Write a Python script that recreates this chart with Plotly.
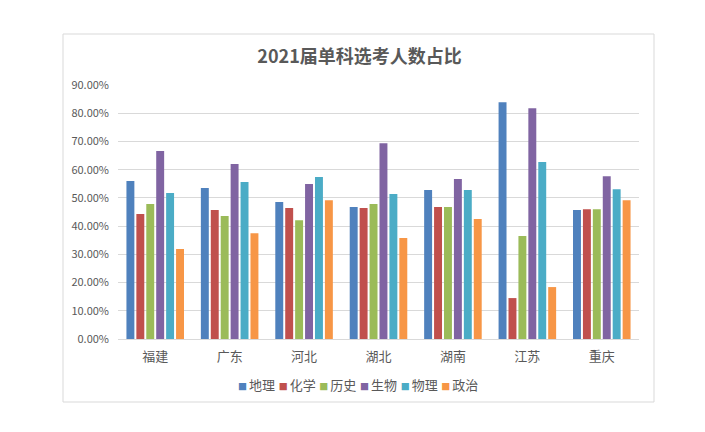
import plotly.graph_objects as go

categories = ["福建", "广东", "河北", "湖北", "湖南", "江苏", "重庆"]
dili =     [0.560, 0.535, 0.485, 0.468, 0.528, 0.839, 0.457]
huaxue =   [0.443, 0.457, 0.464, 0.464, 0.468, 0.145, 0.460]
lishi =    [0.478, 0.436, 0.421, 0.478, 0.468, 0.365, 0.460]
shengwu =  [0.666, 0.620, 0.549, 0.694, 0.567, 0.818, 0.577]
wuli =     [0.517, 0.556, 0.574, 0.514, 0.528, 0.627, 0.531]
zhengzhi = [0.319, 0.375, 0.492, 0.358, 0.425, 0.184, 0.492]

series = [
    ("地理", dili, "#4F81BD"),
    ("化学", huaxue, "#C0504D"),
    ("历史", lishi, "#9BBB59"),
    ("生物", shengwu, "#8064A2"),
    ("物理", wuli, "#4BACC6"),
    ("政治", zhengzhi, "#F79646"),
]

font_family = "Noto Sans CJK SC, Noto Sans, sans-serif"
fig = go.Figure()
for name, vals, color in series:
    fig.add_trace(go.Bar(name=name, x=categories, y=vals, marker_color=color,
                         marker_line_width=0, showlegend=False))

# plot area: x 118-639, y 85-339
W, H = 705, 432
L, R, T, B = 118, 639, 85, 339
pw, ph = R - L, B - T

def px(x):
    return (x - L) / pw

def py(y):
    return (B - y) / ph

legend_text = '<span style="font-size:16px">&nbsp;</span>'.join(
    f'<span style="font-size:9px;color:{c}">■</span>'
    f'<span style="font-size:9px">&nbsp;</span>{n}' for n, _, c in series
)

fig.update_layout(
    width=W, height=H,
    margin=dict(l=L, r=W - R, t=T, b=H - B),
    paper_bgcolor="white", plot_bgcolor="white",
    barmode="group", bargap=0.2, bargroupgap=0.2,
    font=dict(family=font_family, color="#595959"),
    title=dict(text="<b>2021届单科选考人数占比</b>", x=0.51, xanchor="center",
               y=1 - 57 / H, yanchor="middle",
               font=dict(size=18, color="#595959", family=font_family)),
    xaxis=dict(showgrid=False, showline=True, linecolor="#D9D9D9", linewidth=1,
               ticks="", ticklabelstandoff=5,
               tickfont=dict(size=13, color="#595959")),
    yaxis=dict(range=[0, 0.9], dtick=0.1, tickformat=".2%",
               showgrid=True, gridcolor="#D9D9D9", gridwidth=1,
               zeroline=False, showline=False, ticks="",
               ticklabelstandoff=8,
               tickfont=dict(size=11, color="#595959")),
    annotations=[dict(text=legend_text, xref="paper", yref="paper",
                      x=px(358), y=py(383), xanchor="center", yanchor="middle",
                      showarrow=False, font=dict(size=13, color="#595959"))],
    shapes=[dict(type="rect", xref="paper", yref="paper",
                 x0=px(63), x1=px(654), y0=py(402), y1=py(34),
                 line=dict(color="#D9D9D9", width=1), layer="below")],
)

fig.write_html("out.html")
